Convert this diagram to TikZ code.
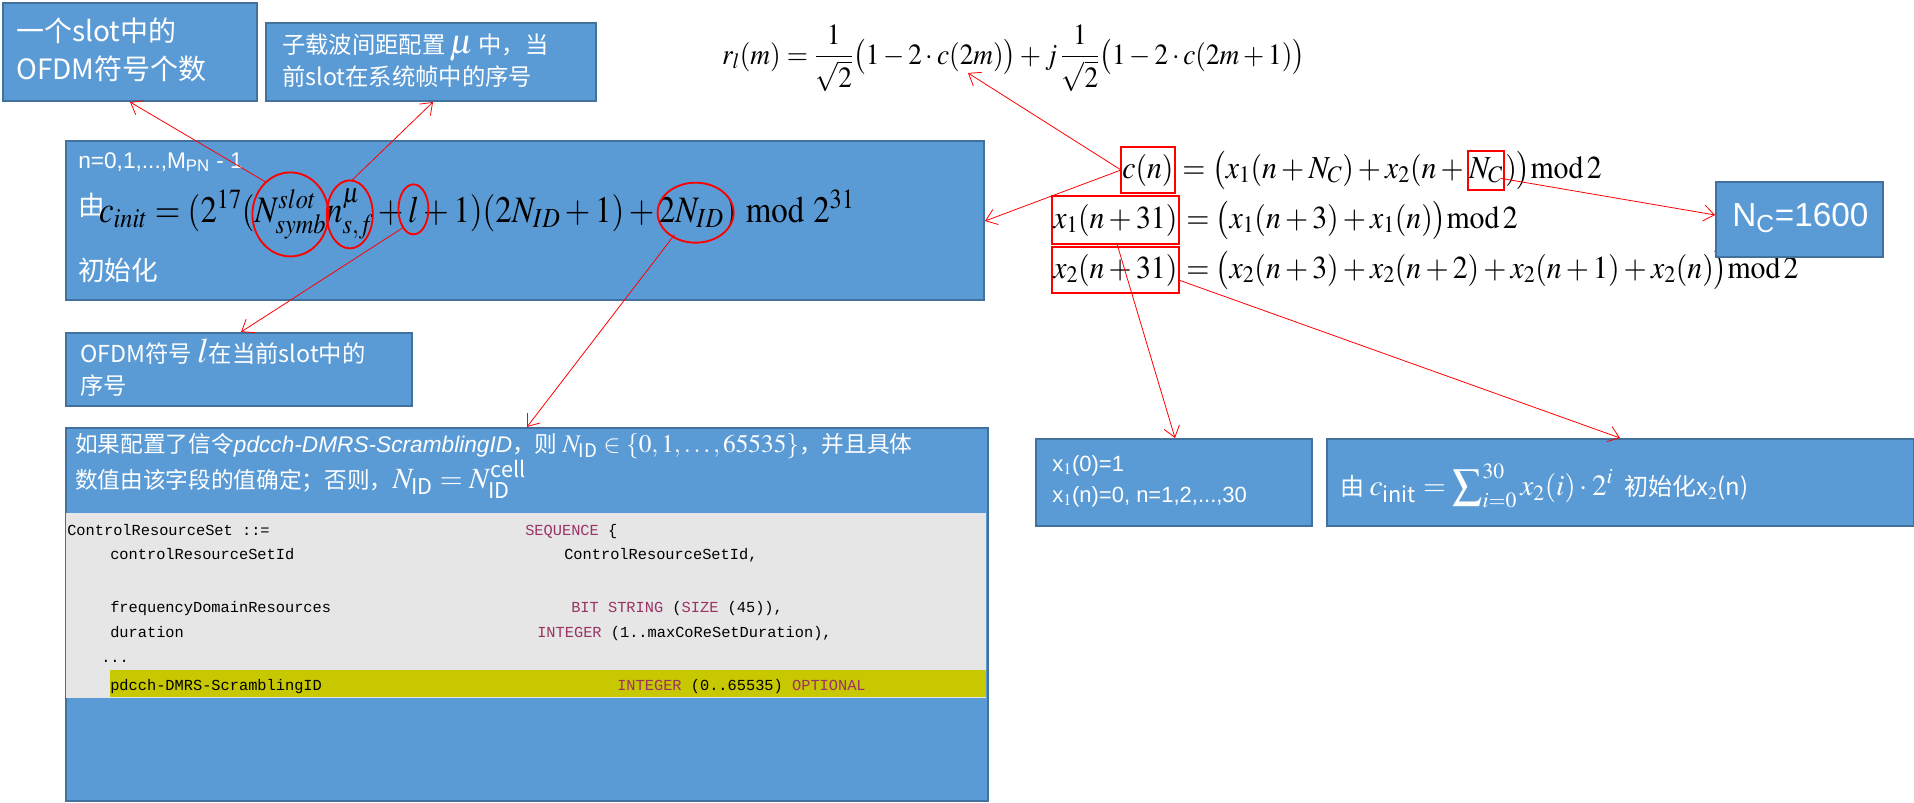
\documentclass[tikz,border=0pt]{standalone}
\usepackage{amsmath}
\usepackage{fontspec}
\usepackage{mathptmx}
\setmainfont{Liberation Sans}
\setmonofont{Liberation Mono}
\newfontfamily\cjk{Noto Sans CJK SC}
\usetikzlibrary{arrows.meta,calc}
\definecolor{bbox}{HTML}{5B9BD5}
\definecolor{bedge}{HTML}{41719C}
\definecolor{kw}{HTML}{993366}
\definecolor{hl}{HTML}{C8C800}
\definecolor{codebg}{HTML}{E7E6E6}
\newcommand{\sqA}[1]{\scalebox{0.88}[1]{#1}}
\newcommand{\sqB}[1]{\scalebox{0.93}[1]{#1}}
\tikzset{
 bluebox/.style={draw=bedge,line width=1.5pt,fill=bbox,anchor=north west,inner sep=0},
 wtext/.style={text=white,font=\cjk,anchor=west,inner sep=0,align=left},
 redarr/.style={draw=red,line width=0.6pt,-{Straight Barb[length=8pt,width=12pt]}},
 redmark/.style={draw=red,line width=1.4pt},
 piece/.style={anchor=base west,inner sep=0,outer sep=0},
 rpiece/.style={anchor=base west,inner sep=0,outer sep=0,font=\fontsize{24}{26}\selectfont},
 rbox/.style={rpiece,draw=red,line width=1.4pt,inner xsep=1pt,inner ysep=5pt},
 code/.style={anchor=base west,inner sep=0,font=\ttfamily\fontsize{11.5}{13}\selectfont},
}
\begin{document}
\begin{tikzpicture}[x=0.75pt,y=-0.75pt]
\useasboundingbox (0,0) rectangle (1914,803);
% boxes
\node[bluebox,minimum width=190.5pt,minimum height=73.5pt] (B1) at (2,2) {};
\node[wtext,font=\cjk\fontsize{21}{28}\selectfont] (b1) at (16,50) {一个slot中的\\OFDM符号个数};
\node[bluebox,minimum width=247.5pt,minimum height=58.5pt] (B2) at (265,22) {};
\node[wtext,font=\cjk\fontsize{17.5}{24}\selectfont] (b2) at (282,61) {子载波间距配置\,{\fontsize{26}{26}\selectfont$\mu$} 中，当\\前slot在系统帧中的序号};
\node[bluebox,minimum width=688.5pt,minimum height=119pt] (B3) at (65,140) {};
\node[wtext,font=\fontsize{17}{18}\selectfont] (n0) at (78,162) {n=0,1,...,M$_{\text{PN}}$ - 1};
\node[wtext,font=\cjk\fontsize{20}{20}\selectfont] (you) at (78,205) {由};
% c_init formula in pieces
\begin{scope}[font=\fontsize{28}{30}\selectfont]
\node[piece] (p1) at (99,222) {\sqA{$c_{init}=(2^{17}($}};
\node[piece] (p2) at (p1.base east) {\sqA{$N_{symb}^{slot}$}};
\node[piece] (p3) at (p2.base east) {\sqA{$n_{s,f}^{\mu}$}};
\node[piece] (p4) at (p3.base east) {\sqA{${}+{}$}};
\node[piece] (p5) at (p4.base east) {\sqA{$l$}};
\node[piece] (p6) at (p5.base east) {\sqA{${}+1)(2N_{ID}+1)+2$}};
\node[piece] (p7) at (p6.base east) {\sqA{$N_{ID}$}};
\node[piece] (p8) at (p7.base east) {\sqA{$)\bmod 2^{31}$}};
\end{scope}
\draw[redmark] (p2.center) ellipse [x radius=38,y radius=42];
\draw[redmark] (p3.center) ellipse [x radius=23,y radius=34];
\draw[redmark] (p5.center) ellipse [x radius=15,y radius=25];
\draw[redmark] ($(p7.center)+(-4,0)$) ellipse [x radius=38,y radius=30];
\node[wtext,font=\cjk\fontsize{20}{20}\selectfont] (init) at (78,270) {初始化};
\node[bluebox,minimum width=259.5pt,minimum height=54.75pt] (B4) at (65,332) {};
\node[wtext,font=\cjk\fontsize{17.5}{24}\selectfont] (b3) at (80,368) {OFDM符号 {\fontsize{26}{26}\selectfont$l$}在当前slot中的\\序号};
% bottom box
\node[bluebox,minimum width=691.5pt,minimum height=280pt] (B5) at (65,427) {};
\fill[codebg] (66,513) rectangle (986,698);
\fill[hl] (110,670) rectangle (986,697);
\node[wtext,font=\cjk\fontsize{17}{22}\selectfont] (b4) at (75,466) {如果配置了信令{\rmfamily\itshape pdcch-DMRS-ScramblingID}，则 {\fontsize{19}{20}\selectfont$N_{\text{ID}}\in\{0,1,\ldots,65535\}$}，并且具体\\数值由该字段的值确定；否则，{\fontsize{22}{20}\selectfont$N_{\text{ID}}=N_{\text{ID}}^{\text{cell}}$}};
\node[code] (c1) at (67,535) {ControlResourceSet ::=};
\node[code,text=kw] (c1b) at (525,535) {SEQUENCE \textcolor{black}{\{}};
\node[code] (c2) at (110,559) {controlResourceSetId};
\node[code] (c2b) at (564,559) {ControlResourceSetId,};
\node[code] (c3) at (110,612) {frequencyDomainResources};
\node[code,text=kw] (c3b) at (571,612) {BIT STRING \textcolor{black}{(}SIZE \textcolor{black}{(45)),}};
\node[code] (c4) at (110,637) {duration};
\node[code,text=kw] (c4b) at (537,637) {INTEGER \textcolor{black}{(1..maxCoReSetDuration),}};
\node[code] (c5) at (101,662) {...};
\node[code] (c6) at (110,690) {pdcch-DMRS-ScramblingID};
\node[code,text=kw] (c6b) at (617,690) {INTEGER \textcolor{black}{(0..65535)} OPTIONAL};
% right formulas
\node[piece,font=\fontsize{22}{24}\selectfont] (rl) at (722,64) {\sqB{$r_l(m)=\dfrac{1}{\sqrt{2}}\bigl(1-2\cdot c(2m)\bigr)+j\,\dfrac{1}{\sqrt{2}}\bigl(1-2\cdot c(2m+1)\bigr)$}};
\coordinate (c2m) at (968,73);
\node[rbox] (cn1) at (1121,178) {\sqB{$c(n)$}};
\node[rpiece] (cn2) at ($(cn1.base east)+(1,0)$) {\sqB{${}=\bigl(x_1(n+N_C)+x_2(n+{}$}};
\node[rbox] (cn3) at (cn2.base east) {\sqB{$N_C$}};
\node[rpiece] (cn4) at ($(cn3.base east)+(1,0)$) {\sqB{$)\bigr)\mathrm{mod}\,2$}};
\node[rbox,inner ysep=6pt] (x11) at (1052,228) {\sqB{$x_1(n+31)$}};
\node[rpiece] (x12) at ($(x11.base east)+(1,0)$) {\sqB{${}=\bigl(x_1(n+3)+x_1(n)\bigr)\mathrm{mod}\,2$}};
\node[rbox,inner ysep=5pt] (x21) at (1052,278) {\sqB{$x_2(n+31)$}};
\node[rpiece] (x22) at ($(x21.base east)+(1,0)$) {\sqB{${}=\bigl(x_2(n+3)+x_2(n+2)+x_2(n+1)+x_2(n)\bigr)\mathrm{mod}\,2$}};
\node[bluebox,minimum width=125pt,minimum height=56pt] (B6) at (1715,181) {};
\node[wtext,font=\fontsize{25}{28}\selectfont] (nc) at (1732,218) {N$_\text{C}$=1600};
\node[bluebox,minimum width=207pt,minimum height=65pt] (B7) at (1035,438) {};
\node[wtext,font=\fontsize{16.5}{23}\selectfont] (x10) at (1052,481) {x$_1$(0)=1\\x$_1$(n)=0, n=1,2,...,30};
\node[bluebox,minimum width=440pt,minimum height=65pt] (B8) at (1326,438) {};
\node[wtext,font=\cjk\fontsize{18}{20}\selectfont] (ci) at (1340,486) {由 {\color{white}\fontsize{22}{22}\selectfont$c_{\text{init}}=\displaystyle\sum\nolimits_{i=0}^{30}x_2(i)\cdot 2^{i}$}\ \ 初始化x$_2$(n)};
% arrows
\draw[redarr] ($(p2.center)+(-24,-32)$) -- ($(B1.south west)+(128,0)$);
\draw[redarr] ($(p3.center)+(2,-34)$) -- ($(B2.south west)+(168,0)$);
\draw[redarr] ($(p5.center)+(-10,18)$) -- ($(B4.north west)+(176,0)$);
\draw[redarr] ($(p7.center)+(-25,22)$) -- ($(B5.north west)+(462,0)$);
\draw[redarr] (cn1.west) -- ($(B3.north east)+(0,81)$);
\draw[redarr] (cn1.west) -- (c2m);
\draw[redarr] ($(cn3.east)+(-4,8)$) -- ($(B6.north west)+(0,34)$);
\draw[redarr] ($(x11.south west)+(65,0)$) -- ($(B7.north west)+(140,0)$);
\draw[redarr] ($(x21.east)+(0,10)$) -- ($(B8.north west)+(294,0)$);
\end{tikzpicture}
\end{document}
